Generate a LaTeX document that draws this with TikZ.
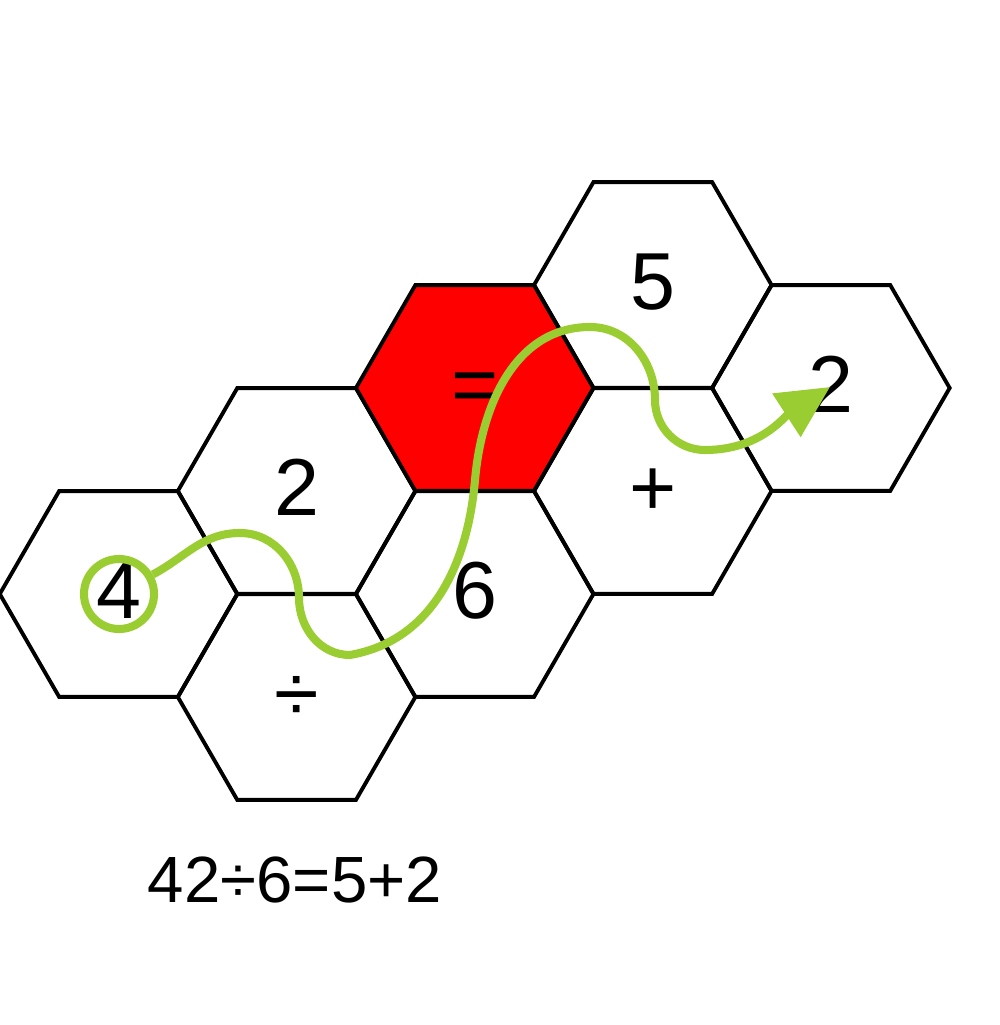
\documentclass[tikz,border=0pt]{standalone}
\usepackage{fontspec}
\setmainfont{Liberation Sans}
\usepackage{tikz}
\usetikzlibrary{shapes.geometric,arrows.meta}
\definecolor{trailgreen}{RGB}{154,205,50}
\tikzset{
	hexcell/.style={draw, line width=1.1pt, regular polygon, regular polygon sides=6, minimum size=2.375cm, inner sep=0pt, font=\fontsize{23}{27}\selectfont, text height=0.58cm, text depth=0.1cm},
	trail/.style={draw=trailgreen, line width=2.3pt}
}

\begin{document}
\begin{tikzpicture}
			%%%%% START %%%%%
			
			\useasboundingbox (0, 0) rectangle (10, -10.25);
			
			\node[hexcell] (four) at (1.185, -5.94) {4};
			\node[hexcell] (twoleft) at (2.966, -4.91) {2};
			\node[hexcell] (divide) at (2.966, -6.97) {÷};
			\node[hexcell, fill=red] (equals) at (4.747, -3.88) {=};
			\node[hexcell] (six) at (4.747, -5.94) {6};
			\node[hexcell] (five) at (6.528, -2.85) {5};
			\node[hexcell] (plus) at (6.528, -4.91) {+};
			\node[hexcell] (tworight) at (8.309, -3.88) {2};
			
			\node[trail, circle, minimum size=0.7cm, inner sep=0pt] (ring) at (1.19, -5.94) {};
			\coordinate (tip) at (8.30, -3.87);
			
			\draw[trail, -{Triangle[length=0.52cm, width=0.5cm]}] (ring.30) to[out=28, in=180] (2.40, -5.33) to[out=0, in=90] (2.99, -5.98) to[out=-90, in=180] (3.50, -6.55) to[out=10, in=-95] (4.75, -4.80) to[out=85, in=180] (5.90, -3.27) to[out=0, in=90] (6.55, -4.00) to[out=-90, in=180] (7.05, -4.50) to[out=0, in=-147] (tip);
			
			\node[font=\fontsize{18.6}{22}\selectfont, anchor=base] (formula) at (2.95, -9.02) {42÷6=5+2};
			
			%%%%% END %%%%%
\end{tikzpicture}
\end{document}
